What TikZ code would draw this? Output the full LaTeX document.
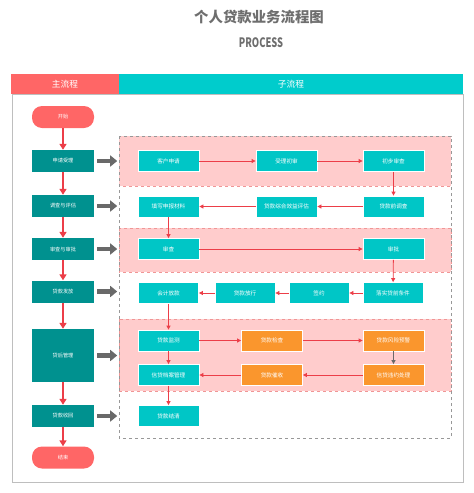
\documentclass[tikz,border=0pt]{standalone}
\usepackage{fontspec}
\setmainfont{Noto Sans CJK SC}
\usetikzlibrary{arrows.meta}
\definecolor{titlegray}{RGB}{110,110,110}
\definecolor{headred}{RGB}{255,102,102}
\definecolor{headteal}{RGB}{0,204,204}
\definecolor{mainteal}{RGB}{0,145,143}
\definecolor{subteal}{RGB}{0,198,198}
\definecolor{riskorange}{RGB}{250,150,45}
\definecolor{bandpink}{RGB}{255,204,204}
\definecolor{bandline}{RGB}{240,150,150}
\definecolor{flowred}{RGB}{236,62,72}
\definecolor{arrowgray}{RGB}{105,105,105}
\definecolor{framegray}{RGB}{190,190,190}
\tikzstyle{mainbox}=[rectangle, fill=mainteal, text=white, inner sep=0pt,
  minimum width=62pt, minimum height=22pt, font=\fontsize{5.2}{6}\selectfont]
\tikzstyle{endbox}=[mainbox, fill=headred, rounded corners=10pt]
\tikzstyle{subbox}=[rectangle, fill=subteal, draw=white, line width=0.8pt, text=white,
  inner sep=0pt, minimum width=61pt, minimum height=21pt, font=\fontsize{5.6}{6}\selectfont]
\tikzstyle{riskbox}=[subbox, fill=riskorange]
\tikzstyle{band}=[fill=bandpink, draw=bandline, dashed, line width=0.6pt]
\tikzstyle{mainflow}=[draw=flowred, line width=1.6pt, -{Triangle[length=6pt,width=7pt]}]
\tikzstyle{subflow}=[draw=flowred, line width=0.8pt, -{Triangle[length=4pt,width=4pt]}]
\tikzstyle{fatarrow}=[draw=arrowgray, line width=4.5pt, -{Triangle[length=7pt,width=11pt]}]
\newcommand{\mainbox}{\node[mainbox]}
\newcommand{\subbox}{\node[subbox]}
\newcommand{\riskbox}{\node[riskbox]}

\begin{document}
\begin{tikzpicture}[x=1pt, y=-1pt
    ,every edge/.style={subflow}
]
\useasboundingbox (0,0) rectangle (474,493);
% title
\node[text=titlegray, font=\bfseries\fontsize{14.4}{16}\selectfont] (title) at (259,17) {个人贷款业务流程图};
\node[text=titlegray, font=\bfseries\fontsize{13}{14}\selectfont] (subtitle) at (261,43) {\scalebox{0.72}[1]{PROCESS}};
% frame and header
\draw[framegray, line width=1pt] (12,94) rectangle (463,482);
\fill[headred] (11,74) rectangle (119,94);
\fill[headteal] (119,74) rectangle (463,94);
\node[text=white, font=\fontsize{8.7}{10}\selectfont] (mainhead) at (65,84) {主流程};
\node[text=white, font=\fontsize{8.7}{10}\selectfont] (subhead) at (291,84) {子流程};
% bands
\draw[band] (119,136) rectangle (451,186);
\draw[band] (119,228) rectangle (451,272);
\draw[band] (119,319) rectangle (451,391);
\draw[framegray!80!black, dashed, line width=0.7pt] (119,136) rectangle (451,438);

% main flow
\node[endbox] (start) at (63,117) {开始};
\mainbox (apply)   at (63,161)   {申请受理};
\mainbox (survey)  at (63,206)   {调查与评估};
\mainbox (review)  at (63,249)   {审查与审批};
\mainbox (grant)   at (63,291.5) {贷款发放};
\mainbox[minimum height=53pt] (post) at (63,355.5) {贷后管理};
\mainbox (recover) at (63,416)   {贷款收回};
\node[endbox] (finish) at (63,457.5) {结束};

% sub flow
\subbox (custapply) at (168.5,161) {客户申请};
\subbox (firstcheck) at (286.5,161) {受理初审};
\subbox (precheck) at (393.5,161) {初步审查};
\subbox (material) at (168.5,206.5) {填写申报材料};
\subbox (benefit) at (286.5,206.5) {贷款综合效益评估};
\subbox (preinvest) at (393.5,206.5) {贷款前调查};
\subbox (exam) at (168.5,249) {审查};
\subbox (approve) at (393.5,249) {审批};
\subbox[minimum width=60pt] (payout) at (168.5,293) {会计放款};
\subbox[minimum width=60pt] (release) at (245,293) {贷款放行};
\subbox[minimum width=60pt] (contract) at (319,293) {签约};
\subbox[minimum width=60pt] (condition) at (393,293) {落实贷前条件};
\subbox (monitor) at (168.5,340.5) {贷款监测};
\riskbox (inspect) at (272,340.5) {贷款检查};
\riskbox (warning) at (393.5,340.5) {贷款风险预警};
\subbox (archive) at (168.5,375) {信贷档案管理};
\riskbox (collect) at (272,375) {贷款催收};
\riskbox (default) at (393.5,375) {信贷违约处理};
\subbox (settle) at (168.5,416) {贷款结清};

\path[mainflow]
(start) edge[mainflow] (apply)
(apply) edge[mainflow] (survey)
(survey) edge[mainflow] (review)
(review) edge[mainflow] (grant)
(grant) edge[mainflow] (post)
(post) edge[mainflow] (recover)
(recover) edge[mainflow] (finish)
;
\foreach \step in {apply,survey,review,grant,post,recover}
  \draw[fatarrow] ([xshift=3pt]\step.east) -- ([xshift=23pt]\step.east);

\path
(custapply) edge (firstcheck)
(firstcheck) edge (precheck)
(precheck) edge (preinvest)
(preinvest) edge (benefit)
(benefit) edge (material)
(material) edge (exam)
(exam) edge (approve)
(approve) edge (condition)
(condition) edge (contract)
(contract) edge (release)
(release) edge (payout)
(payout) edge (monitor)
(monitor) edge (inspect)
(inspect) edge (warning)
(warning) edge[draw=arrowgray] (default)
(default) edge (collect)
(collect) edge (archive)
(monitor) edge (archive)
(archive) edge (settle)
;
\end{tikzpicture}
\end{document}
